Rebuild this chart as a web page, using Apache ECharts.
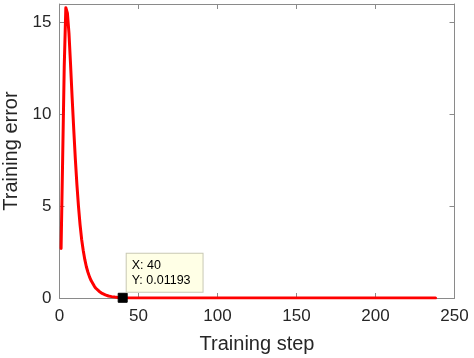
<!DOCTYPE html>
<html>
<head>
<meta charset="utf-8">
<script src="https://cdn.jsdelivr.net/npm/echarts@6/dist/echarts.min.js"></script>
<style>html,body{margin:0;padding:0;background:#fff}#c{width:474px;height:358px}</style>
</head>
<body>
<div id="c"></div>
<script>
var steps  = [1, 2, 3, 4, 5, 6, 7, 8, 9, 10, 11, 12, 13, 14, 15, 16, 17, 18, 19, 20, 21, 22, 23, 24, 25, 26, 27, 28, 29, 30, 31, 32, 33, 34, 35, 36, 37, 38, 39, 40, 45, 50, 75, 100, 150, 200, 238];
var errors = [2.7, 7.6, 12.6, 15.8, 15.5, 14.4, 12.7, 10.9, 9.2, 7.6, 6.2, 5.0, 4.0, 3.2, 2.6, 2.1, 1.7, 1.4, 1.15, 0.95, 0.8, 0.65, 0.53, 0.44, 0.37, 0.3, 0.25, 0.21, 0.17, 0.14, 0.11, 0.09, 0.075, 0.06, 0.05, 0.04, 0.03, 0.022, 0.016, 0.01193, 0.006, 0.003, 0.001, 0.0005, 0.0002, 0.0001, 0.0001];
var tipX = 40, tipY = 0.01193;
var xTicks = [0, 50, 100, 150, 200, 250];
var yTicks = [0, 5, 10, 15];
var xLabel = 'Training step', yLabel = 'Training error';

var lineData = steps.map(function (s, i) { return [s, errors[i]]; });
var font = 'Liberation Sans, Arial, sans-serif';
var axisCol = '#8a8a8a', txtCol = '#262626';
var tick = { show: true, inside: true, length: 5, lineStyle: { color: axisCol } };
var chart = echarts.init(document.getElementById('c'));
chart.setOption({
  animation: false,
  grid: { left: 59.5, right: 19.5, top: 4, bottom: 60, containLabel: false, outerBoundsMode: 'none' },
  xAxis: [{
    type: 'value', min: xTicks[0], max: xTicks[xTicks.length - 1], interval: 50,
    name: xLabel, nameLocation: 'middle', nameGap: 36,
    nameTextStyle: { fontSize: 20, color: txtCol, fontFamily: font },
    axisLine: { show: true, lineStyle: { color: axisCol } },
    axisTick: tick, splitLine: { show: false },
    axisLabel: { fontSize: 17, color: txtCol, fontFamily: font, margin: 10 }
  }, {
    type: 'value', position: 'top', min: 0, max: 250, interval: 50,
    axisLine: { show: true, onZero: false, lineStyle: { color: axisCol } },
    axisTick: tick, splitLine: { show: false }, axisLabel: { show: false }
  }],
  yAxis: [{
    type: 'value', min: 0, max: 16, interval: 5,
    name: yLabel, nameLocation: 'middle', nameGap: 30,
    nameTextStyle: { fontSize: 20, color: txtCol, fontFamily: font },
    axisLine: { show: true, lineStyle: { color: axisCol } },
    axisTick: tick, splitLine: { show: false },
    axisLabel: { fontSize: 17, color: txtCol, fontFamily: font, margin: 8, showMaxLabel: false,
      formatter: function (v) { return yTicks.indexOf(v) >= 0 ? String(v) : ''; } }
  }, {
    type: 'value', position: 'right', min: 0, max: 16, interval: 5,
    axisLine: { show: true, onZero: false, lineStyle: { color: axisCol } },
    axisTick: tick, splitLine: { show: false }, axisLabel: { show: false }
  }],
  series: [{
    type: 'line', data: lineData, showSymbol: false, symbol: 'none',
    lineStyle: { color: '#ff0000', width: 3, join: 'round', cap: 'round' }, z: 3
  }, {
    type: 'scatter', data: [[tipX, tipY]], symbol: 'rect', symbolSize: 9,
    itemStyle: { color: '#000', borderColor: '#000', opacity: 1 }, z: 5,
    label: {
      show: true, position: [9, -39],
      formatter: 'X: ' + tipX + '\nY: ' + tipY,
      fontSize: 12.5, fontFamily: font, color: '#000', lineHeight: 15,
      backgroundColor: '#ffffe6', borderColor: '#c8c8b4', borderWidth: 1,
      padding: [4, 12, 4, 5], align: 'left', verticalAlign: 'top'
    }
  }]
});
</script>
</body>
</html>
